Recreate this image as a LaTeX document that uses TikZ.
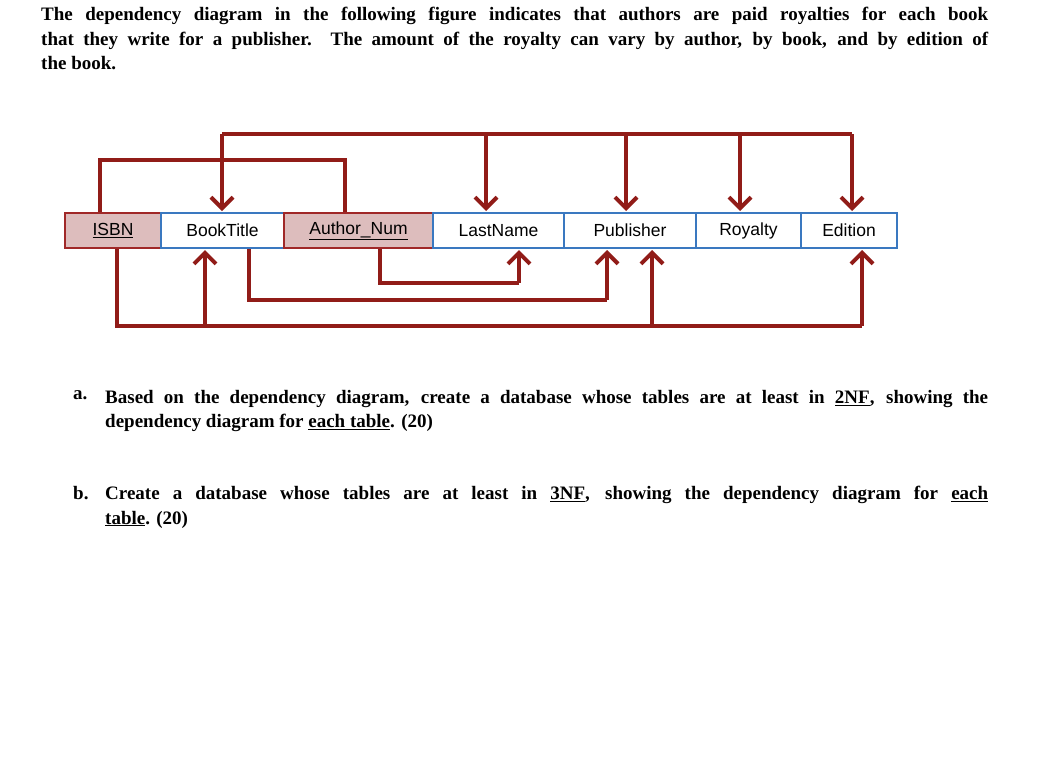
\documentclass[tikz,border=0pt]{standalone}
\usepackage{fontspec}
\setmainfont{Liberation Serif}
\newfontfamily\arialf{Liberation Sans}
\usetikzlibrary{arrows.meta}
\definecolor{dred}{RGB}{145,28,24}
\definecolor{kfill}{RGB}{221,189,189}
\definecolor{kborder}{RGB}{160,40,40}
\definecolor{bborder}{RGB}{58,120,192}
\tikzset{
  fld/.style={draw=bborder,line width=1.8pt,fill=white,minimum height=35pt,inner sep=0pt,font=\arialf\fontsize{17.5}{20}\selectfont},
  key/.style={fld,draw=kborder,fill=kfill},
  dep/.style={draw=dred,line width=3.8pt},
  arr/.style={dep,-{Straight Barb[length=11pt,width=22pt,line width=4pt]}},
  para/.style={anchor=north west,align=justify,inner sep=0pt,font=\bfseries\fontsize{19}{24.5}\selectfont}
}
\begin{document}
\begin{tikzpicture}[x=1pt,y=-1pt]
\useasboundingbox (0,0) rectangle (1038,780);
\node[para,text width=947] (intro) at (41,7) {The dependency diagram in the following figure indicates that authors are paid royalties for each book\linebreak that they write for a publisher.\ \ The amount of the royalty can vary by author, by book, and by edition of\linebreak the book.};
% boxes
\node[key,minimum width=96] (isbn) at (113,230.5) {\underline{ISBN}};
\node[fld,minimum width=123] (bt) at (222.5,230.5) {BookTitle};
\node[key,minimum width=149] (an) at (358.5,230.5) {\underline{Author\_Num}};
\node[fld,minimum width=131] (ln) at (498.5,230.5) {LastName};
\node[fld,minimum width=132] (pub) at (630,230.5) {Publisher};
\node[fld,minimum width=105] (roy) at (748.5,230.5) {Royalty};
\node[fld,minimum width=96] (ed) at (849,230.5) {Edition};
% top connectors
\coordinate (t1) at (100,160); \coordinate (t2) at (345,160);
\draw[dep] (100,212) -- (t1) -- (t2) -- (345,212);
\coordinate (u1) at (222,134); \coordinate (u2) at (852,134);
\draw[dep] (u1) -- (u2);
\draw[arr] (u1) -- (222,211);
\draw[arr] (486,134) -- (486,211);
\draw[arr] (626,134) -- (626,211);
\draw[arr] (740,134) -- (740,211);
\draw[arr] (u2) -- (852,211);
% bottom connectors
\coordinate (b1) at (117,326); \coordinate (b2) at (862,326);
\draw[dep] (117,249) -- (b1) -- (b2);
\draw[arr] (205,326) -- (205,250);
\draw[arr] (652,326) -- (652,250);
\draw[arr] (b2) -- (862,250);
\coordinate (c1) at (249,300); \coordinate (c2) at (607,300);
\draw[dep] (249,249) -- (c1) -- (c2);
\draw[arr] (c2) -- (607,250);
\coordinate (d1) at (380,283); \coordinate (d2) at (519,283);
\draw[dep] (380,249) -- (d1) -- (d2);
\draw[arr] (d2) -- (519,250);
% questions
\node[para,anchor=north west] (la) at (73,390) {a.};
\node[para,text width=883] (qa) at (105,390) {Based on the dependency diagram, create a database whose tables are at least in \underline{2NF}, showing the\linebreak dependency diagram for \underline{each table}. (20)};
\node[para,anchor=north west] (lb) at (73,486) {b.};
\node[para,text width=883] (qb) at (105,486) {Create a database whose tables are at least in \underline{3NF}, showing the dependency diagram for \underline{each}\linebreak \underline{table}. (20)};
\end{tikzpicture}
\end{document}
